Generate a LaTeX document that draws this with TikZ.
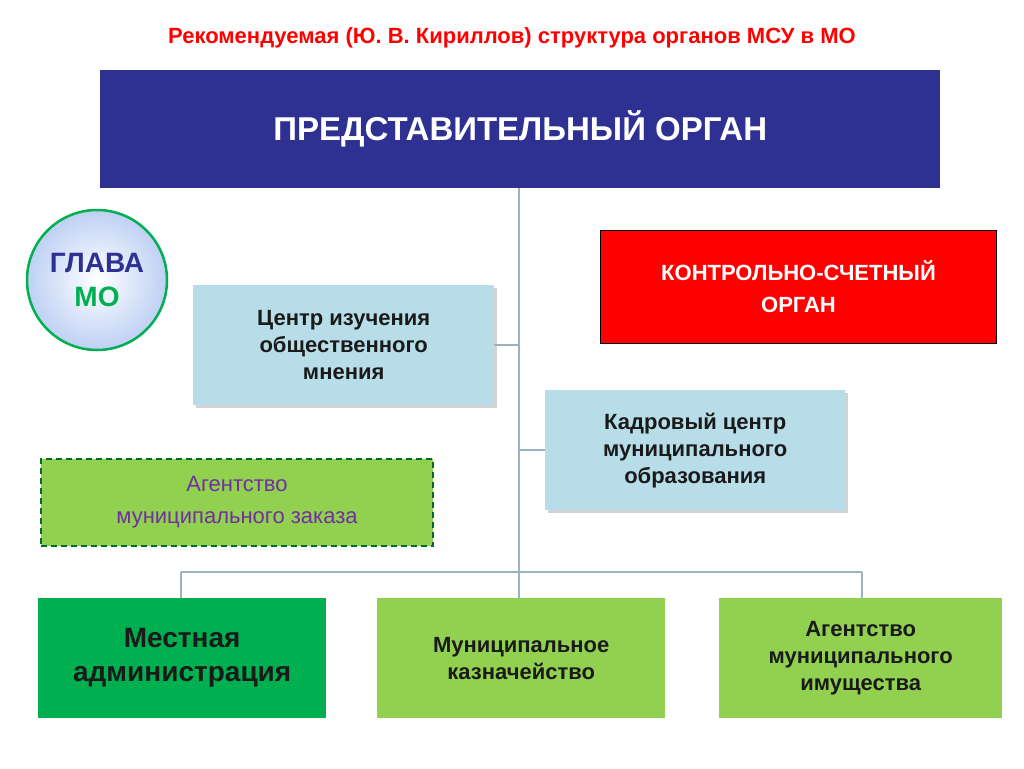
\documentclass[tikz,border=0pt]{standalone}
\usepackage{fontspec}
\setmainfont{Liberation Sans}
\usetikzlibrary{shadows}
\definecolor{navy}{HTML}{2E3192}
\definecolor{conn}{HTML}{9BB3C0}
\definecolor{cyanbox}{HTML}{B7DEE8}
\definecolor{lgreen}{HTML}{92D050}
\definecolor{dgreen}{HTML}{00B050}
\definecolor{purp}{HTML}{7030A0}
\definecolor{txt}{HTML}{1A1A1A}
\tikzset{
 box/.style={draw=none,minimum width=#1,align=center,font=\bfseries\fontsize{22}{27}\selectfont,text=txt,inner sep=0pt},
 cyanb/.style={fill=cyanbox,drop shadow={shadow xshift=3pt,shadow yshift=-3pt,opacity=0.35}},
 wire/.style={draw=conn,line width=2.5pt},
}
\begin{document}
\begin{tikzpicture}[x=1pt,y=-1pt]
\useasboundingbox (0,0) rectangle (1024,768);
\node[font=\bfseries\fontsize{22}{26}\selectfont,text=red] (title) at (512,38) {Рекомендуемая (Ю. В. Кириллов) структура органов МСУ в МО};
\node[fill=navy,minimum width=840pt,minimum height=118pt,text=white,font=\bfseries\fontsize{33}{38}\selectfont,anchor=north west] (top) at (100,70) {ПРЕДСТАВИТЕЛЬНЫЙ ОРГАН};
\coordinate (vtop) at (519,188);
\coordinate (vbot) at (519,572);
\coordinate (hl) at (181,572);
\coordinate (hr) at (862,572);
\draw[wire] (vtop) -- (vbot);
\draw[wire] (hl) -- (hr);
% circle
\node[circle,draw=dgreen,line width=2.5pt,minimum size=140pt,inner color=white,outer color=cyanbox!80!blue!60,align=center,font=\bfseries\fontsize{28}{34}\selectfont] (glava) at (97,280) {\textcolor{navy}{ГЛАВА}\\\textcolor{dgreen}{МО}};
\node[fill=red,draw=black,line width=1pt,minimum width=396pt,minimum height=113pt,anchor=north west,align=center,text=white,font=\bfseries\fontsize{22}{32}\selectfont] (ksp) at (600,230) {КОНТРОЛЬНО-СЧЕТНЫЙ\\ОРГАН};
\node[box=301pt,cyanb,minimum height=120pt,anchor=north west] (cent) at (193,285) {Центр изучения\\общественного\\мнения};
\node[box=300pt,cyanb,minimum height=120pt,anchor=north west] (kadr) at (545,390) {Кадровый центр\\муниципального\\образования};
\draw[wire] (cent.east) -- (cent.east -| vtop);
\draw[wire] (kadr.west) -- (kadr.west -| vtop);
\node[box=392pt,fill=lgreen,draw=dgreen!60!black,dashed,dash pattern=on 6pt off 4pt,line width=2pt,minimum height=87pt,anchor=north west,text=purp,font=\fontsize{22}{32}\selectfont] (agz) at (40,458) {Агентство\\муниципального заказа};
\node[box=288pt,fill=dgreen,minimum height=120pt,anchor=north west,font=\bfseries\fontsize{28}{34}\selectfont] (adm) at (38,598) {Местная\\администрация};
\node[box=288pt,fill=lgreen,minimum height=120pt,anchor=north west] (kazn) at (377,598) {Муниципальное\\казначейство};
\node[box=283pt,fill=lgreen,minimum height=120pt,anchor=north west] (imus) at (719,598) {Агентство\\муниципального\\имущества};
\draw[wire] (hl) -- (hl |- adm.north);
\draw[wire] (vbot) -- (vbot |- kazn.north);
\draw[wire] (hr) -- (hr |- imus.north);
\end{tikzpicture}
\end{document}
